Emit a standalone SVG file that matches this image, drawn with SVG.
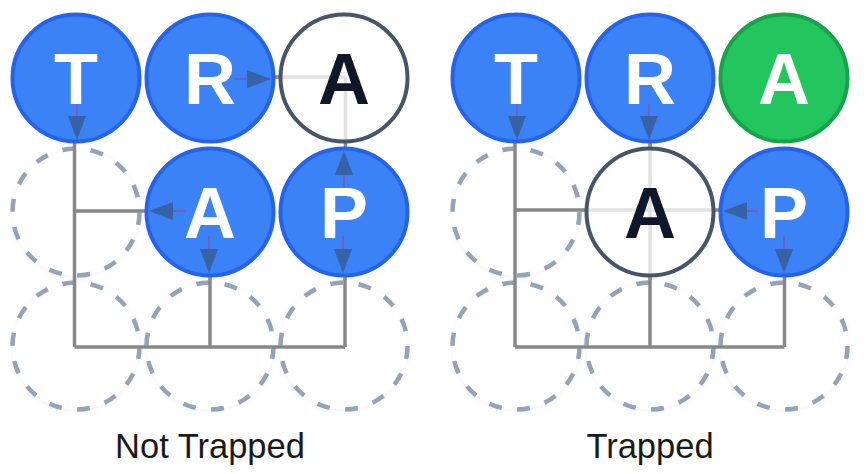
<svg xmlns="http://www.w3.org/2000/svg" width="866" height="474" viewBox="0 0 866 474">
<style>
.empty{fill:#ffffff;stroke:#94a3b8;stroke-width:4.5;stroke-dasharray:13 15.5;filter:url(#sh)}
.blue{fill:#3b82f6;stroke:#2563eb;stroke-width:4}
.green{fill:#22c55e;stroke:#16a34a;stroke-width:4}
.cur{fill:#ffffff;fill-opacity:0.76;stroke:#475569;stroke-width:4}
.conn{fill:none;stroke:#888888;stroke-width:3.5}
.arr{fill:none;stroke:#e11d48;stroke-opacity:0.35;stroke-width:2;marker-end:url(#ah)}
.lt{font-family:"Liberation Sans",Arial,sans-serif;font-weight:bold;font-size:72px;text-anchor:middle;fill:#ffffff}
.dk{fill:#0f172a}
.cap{font-family:"Liberation Sans",Arial,sans-serif;font-size:34.5px;text-anchor:middle;fill:#1a1a1a}
</style>
<defs>
<filter id="sh" x="-20%" y="-20%" width="140%" height="140%">
<feDropShadow dx="0" dy="1" stdDeviation="2" flood-color="#000" flood-opacity="0.06"/>
</filter>
<marker id="ah" markerUnits="userSpaceOnUse" markerWidth="24" markerHeight="18" refX="0" refY="9" orient="auto">
<path d="M0,0 L24,9 L0,18 z" fill="#334155" fill-opacity="0.5"/>
</marker>
</defs>

<g id="empty-nodes">
<g id="L-r2c0"><circle class="empty" cx="76" cy="212" r="63.5"/></g>
<g id="L-r3c0"><circle class="empty" cx="76" cy="346" r="63.5"/></g>
<g id="L-r3c1"><circle class="empty" cx="210" cy="346" r="63.5"/></g>
<g id="L-r3c2"><circle class="empty" cx="344" cy="346" r="63.5"/></g>
<g id="R-r2c0"><circle class="empty" cx="516" cy="212" r="63.5"/></g>
<g id="R-r3c0"><circle class="empty" cx="516" cy="346" r="63.5"/></g>
<g id="R-r3c1"><circle class="empty" cx="650" cy="346" r="63.5"/></g>
<g id="R-r3c2"><circle class="empty" cx="784" cy="346" r="63.5"/></g>
</g>

<g id="connectors">
<path class="conn" d="M74.5,78 V347 M74.5,211 H210 M210,212 V347 M345,212 V347 M74.5,347 H345 M210,77 H345.5 M345.5,77 V212"/>
<path class="conn" d="M515,78 V347 M515,210 H784 M650,78 V347 M784.5,212 V347 M515,347 H784.5"/>
</g>

<g id="L-T"><circle class="blue" cx="76" cy="78" r="63.5"/><text class="lt" x="76" y="104">T</text></g>
<g id="L-R"><circle class="blue" cx="210" cy="78" r="63.5"/><text class="lt" x="210" y="104">R</text></g>
<g id="L-A1"><circle class="cur" cx="344" cy="78" r="63.5"/><text class="lt dk" x="344" y="104">A</text></g>
<g id="L-A2"><circle class="blue" cx="210" cy="212" r="63.5"/><text class="lt" x="210" y="238">A</text></g>
<g id="L-P"><circle class="blue" cx="344" cy="212" r="63.5"/><text class="lt" x="344" y="238">P</text></g>

<g id="R-T"><circle class="blue" cx="516" cy="78" r="63.5"/><text class="lt" x="516" y="104">T</text></g>
<g id="R-R"><circle class="blue" cx="650" cy="78" r="63.5"/><text class="lt" x="650" y="104">R</text></g>
<g id="R-A1"><circle class="green" cx="784" cy="78" r="63.5"/><text class="lt" x="784" y="104">A</text></g>
<g id="R-A2"><circle class="cur" cx="650" cy="212" r="63.5"/><text class="lt dk" x="650" y="238">A</text></g>
<g id="R-P"><circle class="blue" cx="784" cy="212" r="63.5"/><text class="lt" x="784" y="238">P</text></g>

<g id="arrows">
<path class="arr" d="M77,104 V116"/>
<path class="arr" d="M234,79 H247"/>
<path class="arr" d="M185,211 H173"/>
<path class="arr" d="M344,187 V175"/>
<path class="arr" d="M209,236 V249"/>
<path class="arr" d="M343,236 V249"/>
<path class="arr" d="M517,104 V116"/>
<path class="arr" d="M649,104 V116"/>
<path class="arr" d="M759,211 H747"/>
<path class="arr" d="M784,236 V249"/>
</g>

<g id="labels">
<text class="cap" x="210" y="458">Not Trapped</text>
<text class="cap" x="650" y="458">Trapped</text>
</g>
</svg>
